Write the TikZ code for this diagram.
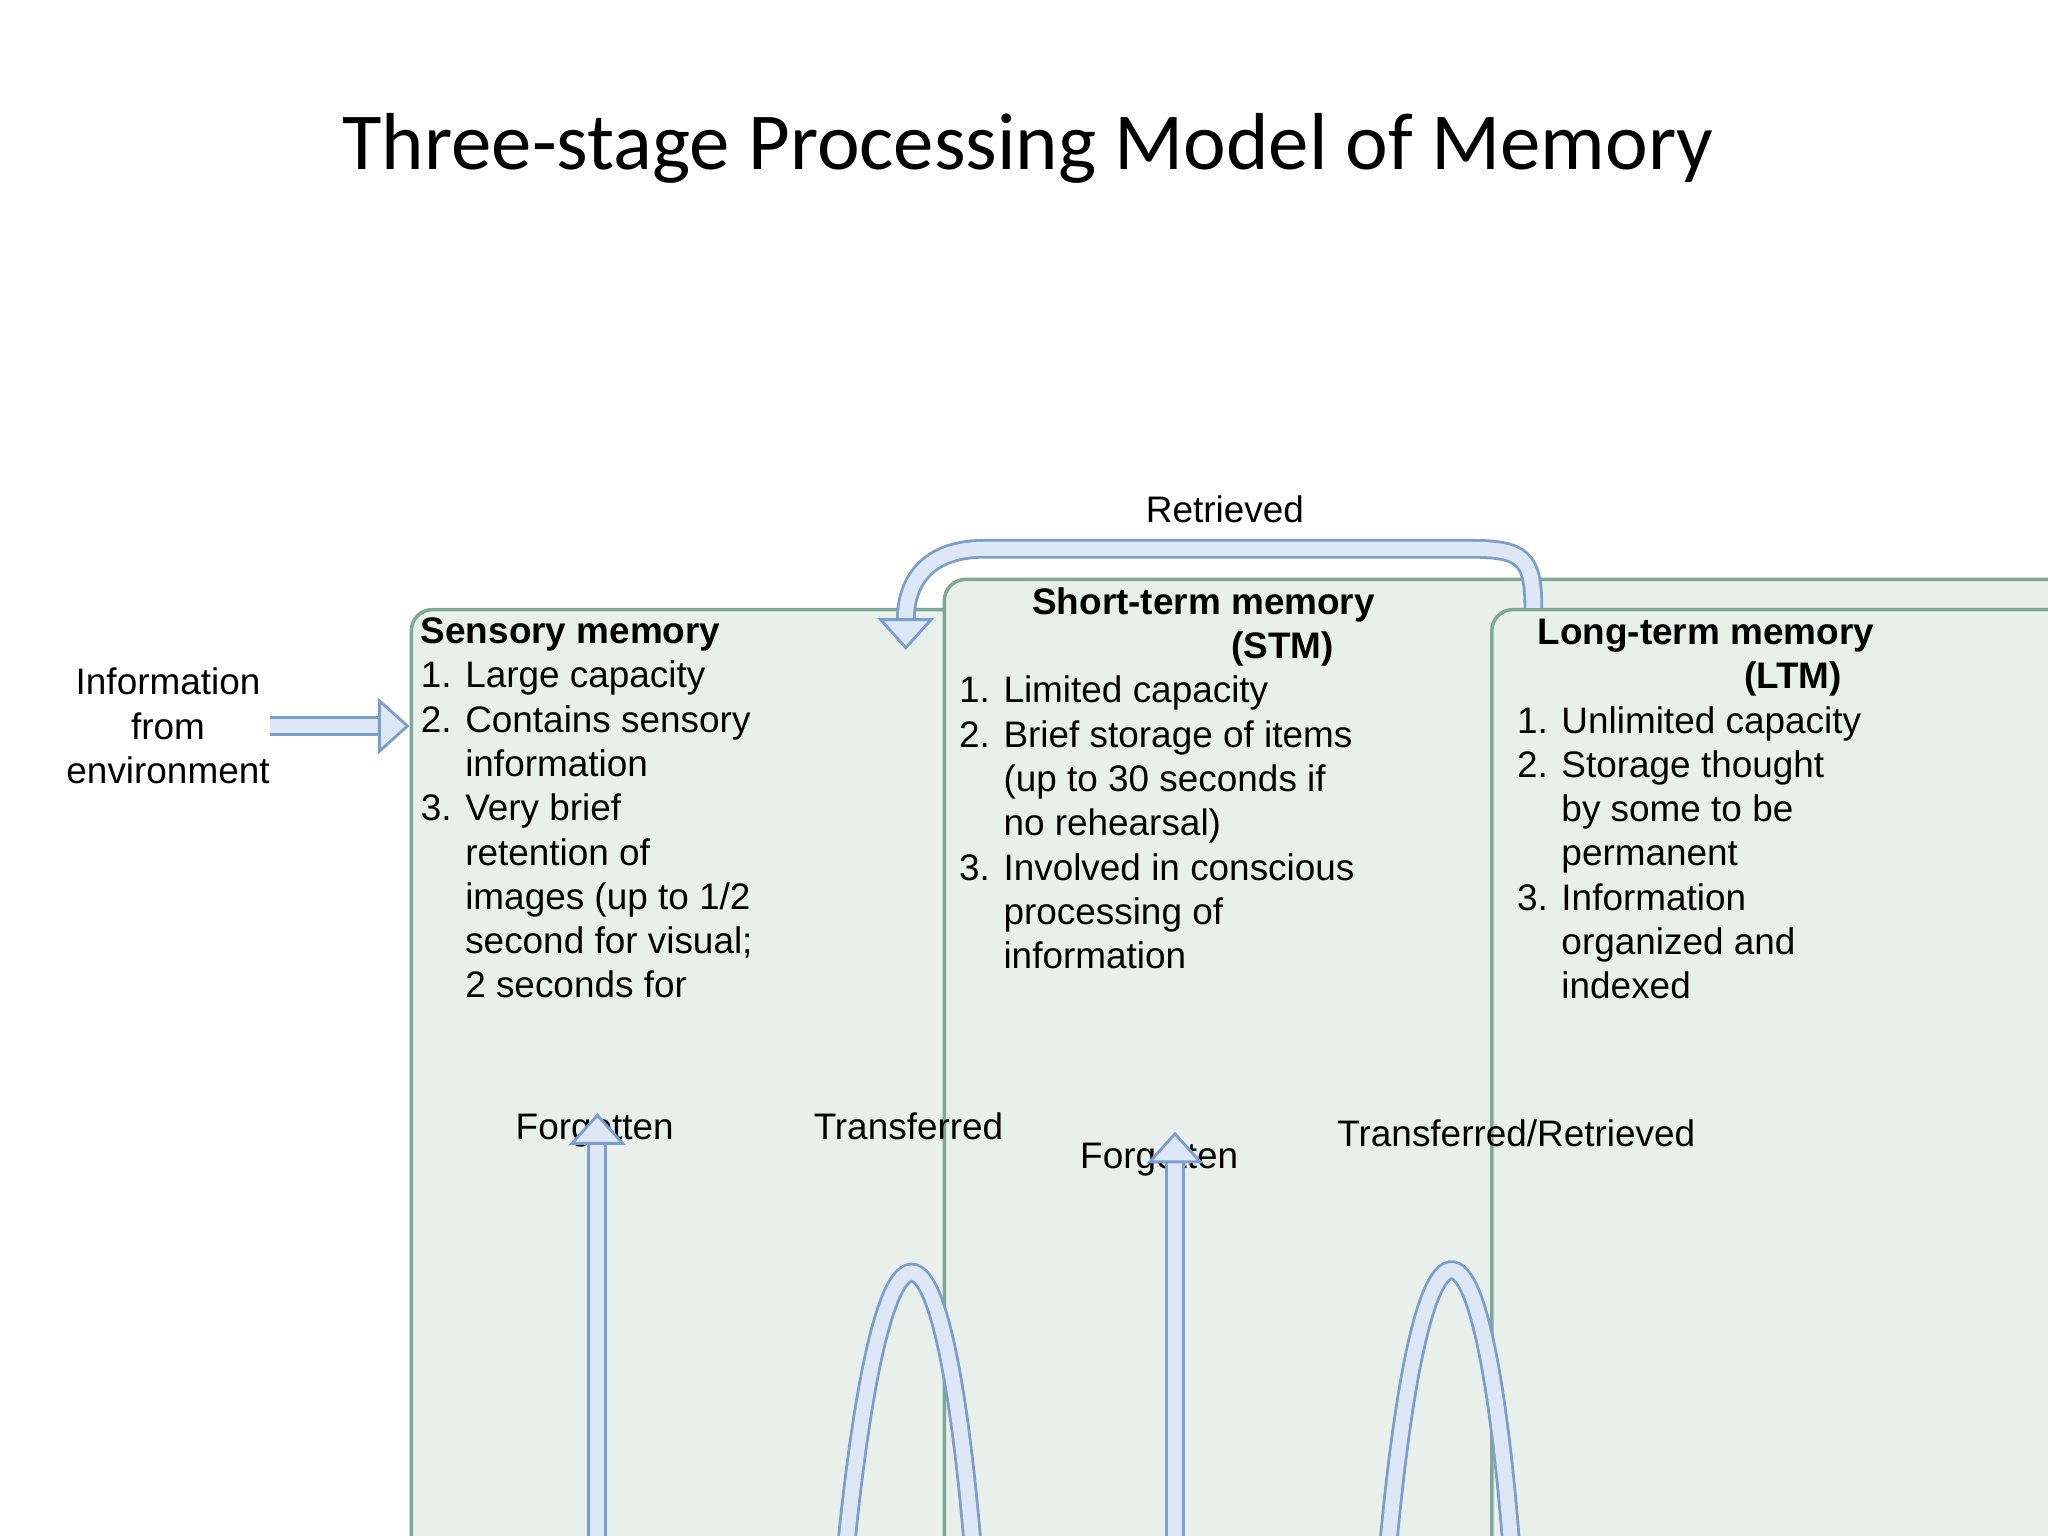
\documentclass[tikz,border=0pt]{standalone}
\usepackage{fontspec}
\setmainfont{Liberation Sans}
\newfontfamily\titlefont{Carlito}
\usetikzlibrary{arrows.meta}
\definecolor{boxfill}{HTML}{E9F0EC}
\definecolor{boxline}{HTML}{7FA898}
\definecolor{boxshade}{HTML}{5F9180}
\definecolor{arrline}{HTML}{7C9ECB}
\definecolor{arrfill}{HTML}{DDE7F6}

\begin{document}
\begin{tikzpicture}[x=0.01313cm,y=-0.01313cm,
    box/.style={draw=boxline, fill=boxfill, rounded corners=6pt, line width=1pt},
    shade/.style={fill=boxshade, rounded corners=6pt},
    txt/.style={align=left, inner sep=0pt, font=\fontsize{10.5}{12.6}\selectfont},
    lbl/.style={inner sep=0pt, font=\fontsize{10.5}{12.6}\selectfont},
    flow/.style={draw=arrline, double=arrfill, double distance=4pt, line width=0.8pt,
      -{Triangle[open, fill=arrfill, length=9pt, width=16pt]}}]
    \useasboundingbox (0,0) rectangle (1560,1170);
    \node[font=\titlefont\fontsize{23}{28}\selectfont] (title) at (783,113) {Three-stage Processing Model of Memory};
    % boxes
    \fill[shade] (320,471) rectangle (648,798);
    \fill[shade] (726,448) rectangle (1106,793);
    \fill[shade] (1143,471) rectangle (1480,796);
    \node[box, minimum width=328, minimum height=327, anchor=north west] (sm) at (312,463) {};
    \node[box, minimum width=380, minimum height=345, anchor=north west] (stm) at (718,440) {};
    \node[box, minimum width=337, minimum height=325, anchor=north west] (ltm) at (1135,463) {};
    \node[txt, anchor=north west] (smtext) at (320,470) {\textbf{Sensory memory}\\
      1. Large capacity\\2. Contains sensory\\\phantom{2. }information\\3. Very brief\\
      \phantom{3. }retention of\\\phantom{3. }images (up to 1/2\\\phantom{3. }second for visual;\\\phantom{3. }2 seconds for};
    \node[txt, anchor=north west] (stmtext) at (730,447) {\phantom{1. Li}\textbf{Short-term memory}\\
      \phantom{1. Limited capac}\textbf{(STM)}\\
      1. Limited capacity\\2. Brief storage of items\\\phantom{2. }(up to 30 seconds if\\
      \phantom{2. }no rehearsal)\\3. Involved in conscious\\\phantom{3. }processing of\\\phantom{3. }information};
    \node[txt, anchor=north west] (ltmtext) at (1155,471) {\phantom{1}\textbf{Long-term memory}\\
      \phantom{1. Unlimited c}\textbf{(LTM)}\\
      1. Unlimited capacity\\2. Storage thought\\\phantom{2. }by some to be\\\phantom{2. }permanent\\
      3. Information\\\phantom{3. }organized and\\\phantom{3. }indexed};
    % labels
    \node[lbl, align=center] (env) at (128,553) {Information\\from\\environment};
    \node[lbl] (forg1) at (453,861) {Forgotten};
    \node[lbl] (trans) at (692,858) {Transferred};
    \node[lbl] (forg2) at (883,883) {Forgotten};
    \node[lbl] (transret) at (1155,863) {Transferred/Retrieved};
    \node[lbl] (retr) at (933,388) {Retrieved};
    % arrows
    \draw[flow] (env.east |- 0,553) -- (sm.west |- 0,553);
    \draw[flow] (sm.south -| 455,0) -- (forg1.north -| 455,0);
    \draw[flow] (stm.south -| 895,0) -- (895,862);
    \draw[flow] (sm.south -| 632,0) .. controls (660,850) and (730,840) .. (stm.south -| 752,0);
    \draw[flow, {Triangle[open, fill=arrfill, length=9pt, width=16pt]}-{Triangle[open, fill=arrfill, length=9pt, width=16pt]}]
      (stm.south -| 1045,0) .. controls (1070,850) and (1140,845) .. (ltm.south -| 1160,0);
    \draw[flow] (ltm.north -| 1168,0) .. controls (1168,425) and (1160,418) .. (1120,418)
      -- (750,418) .. controls (700,418) and (690,450) .. (690,495);
\end{tikzpicture}
\end{document}
